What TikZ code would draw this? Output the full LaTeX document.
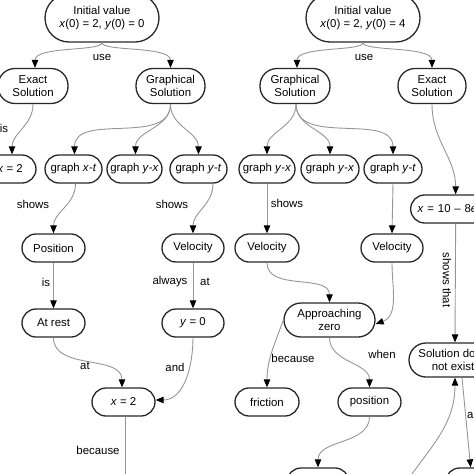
\documentclass[tikz,border=0pt]{standalone}
\usepackage{fontspec}
\setmainfont{Liberation Sans}
\usetikzlibrary{arrows.meta}

\begin{document}
\begin{tikzpicture}[x=1pt,y=-1pt,%
  concept/.style={draw={rgb,255:red,40;green,40;blue,40}, line width=1.3pt, rounded corners=14pt, minimum height=28pt, inner sep=0pt, align=center, font=\fontsize{11.4}{13.5}\selectfont},%
  concepttwo/.style={concept, rounded corners=17pt, minimum height=35pt},%
  conceptinit/.style={concept, rounded corners=24pt, minimum height=48pt},%
  link/.style={draw={rgb,255:red,150;green,150;blue,150}, line width=0.9pt, -{Triangle[length=8pt,width=6.5pt,color=black]}},%
  plain/.style={draw={rgb,255:red,150;green,150;blue,150}, line width=0.9pt},%
  lbl/.style={font=\fontsize{11.4}{13.5}\selectfont, inner sep=0pt}]%
\useasboundingbox (0,0) rectangle (474,474);%
\clip (0,0) rectangle (474,474);%
\node[conceptinit, minimum width=114pt] (initL) at (102,18) {Initial value\\\textit{x}(0) = 2, \textit{y}(0) = 0};%
\node[conceptinit, minimum width=114pt] (initR) at (363,18) {Initial value\\\textit{x}(0) = 2, \textit{y}(0) = 4};%
\node[concepttwo, minimum width=70pt] (exactL) at (33,86) {Exact\\Solution};%
\node[concepttwo, minimum width=69pt] (graphL) at (170.5,86) {Graphical\\Solution};%
\node[concepttwo, minimum width=70pt] (graphR) at (295,86) {Graphical\\Solution};%
\node[concepttwo, minimum width=68pt] (exactR) at (432,86) {Exact\\Solution};%
\node[concept, minimum width=52pt] (x2L) at (10,169) {\textit{x} = 2};%
\node[concept, minimum width=57pt] (gxtL) at (73.5,169) {graph \textit{x}-\textit{t}};%
\node[concept, minimum width=55pt] (gyxL) at (134.5,169) {graph \textit{y}-\textit{x}};%
\node[concept, minimum width=57pt] (gytL) at (198.5,169) {graph \textit{y}-\textit{t}};%
\node[concept, minimum width=56pt] (gyxRa) at (267,169) {graph \textit{y}-\textit{x}};%
\node[concept, minimum width=58pt] (gyxRb) at (330,169) {graph \textit{y}-\textit{x}};%
\node[concept, minimum width=58pt] (gytR) at (393,169) {graph \textit{y}-\textit{t}};%
\node[concept, anchor=west, text width=85pt, align=left, inner xsep=7pt] (xeq) at (410,209) {\textit{x} = 10 – 8\textit{e}};%
\node[concept, minimum width=63pt] (posL) at (53.5,248) {Position};%
\node[concept, minimum width=62pt] (velL) at (193,248) {Velocity};%
\node[concept, minimum width=64pt] (velRa) at (267,248) {Velocity};%
\node[concept, minimum width=62pt] (velRb) at (392,248) {Velocity};%
\node[concept, minimum width=63pt] (restL) at (53.5,323) {At rest};%
\node[concept, minimum width=62pt] (yzero) at (193,323) {\textit{y} = 0};%
\node[concepttwo, minimum width=91pt, minimum height=34pt] (appr) at (329.5,320) {Approaching\\zero};%
\node[concepttwo, minimum width=88pt, minimum height=34pt] (nosol) at (453,360) {Solution does\\not exist};%
\node[concept, minimum width=63pt] (x2b) at (123.5,402) {\textit{x} = 2};%
\node[concept, minimum width=64pt] (friction) at (267,402) {friction};%
\node[concept, minimum width=63pt] (position) at (369.5,402) {position};%
\node[concept, minimum width=62pt] (botA) at (318,482) {};%
\node[concept, minimum width=100pt, anchor=west] (botB) at (445,482) {};%
\coordinate (x2bEnd) at (125,490);%
\coordinate (lowC) at (395,500);%
\draw[link] (initL.south) .. controls +(0,9) and +(0,-22) .. ([xshift=2pt]exactL.north);%
\draw[link] (initL.south) .. controls +(0,9) and +(0,-22) .. (graphL.north);%
\node[lbl] (useL) at (102,57) {use};%
\draw[link] (exactL.south) to[out=-90,in=90] ([xshift=2pt]x2L.north);%
\node[lbl] (isA) at (4,128) {is};%
\draw[link] (graphL.south) to[out=-90,in=90] ([xshift=1pt]gxtL.north);%
\draw[link] (graphL.south) to[out=-90,in=90] ([xshift=1pt]gyxL.north);%
\draw[link] (graphL.south) to[out=-90,in=90] (gytL.north);%
\draw[link] ([xshift=2pt]gxtL.south) to[out=-90,in=90] (posL.north);%
\node[lbl] (showsA) at (33,204) {shows};%
\draw[link] ([xshift=14.5pt]gytL.south) to[out=-90,in=90] (velL.north);%
\node[lbl] (showsB) at (172,204) {shows};%
\draw[link] (posL.south) -- (restL.north);%
\node[lbl] (isB) at (46,282) {is};%
\draw[link] (velL.south) -- (yzero.north);%
\node[lbl] (always) at (170,282) {always};%
\node[lbl] (atA) at (205,282) {at};%
\draw[link] (restL.south) to[out=-90,in=90] ([xshift=-1.5pt]x2b.north);%
\node[lbl] (atB) at (85,366) {at};%
\draw[link] (yzero.south) to[out=-90,in=0] ([yshift=2pt]x2b.east);%
\node[lbl] (andA) at (175,367) {and};%
\draw[plain] ([xshift=1.5pt]x2b.south) -- (x2bEnd);%
\node[lbl] (becauseA) at (98,450) {because};%
\draw[link] (initR.south) .. controls +(0,9) and +(0,-22) .. ([xshift=2pt]graphR.north);%
\draw[link] (initR.south) .. controls +(0,9) and +(0,-22) .. (exactR.north);%
\node[lbl] (useR) at (364,57) {use};%
\draw[link] ([xshift=1pt]graphR.south) to[out=-90,in=90] (gyxRa.north);%
\draw[link] ([xshift=1pt]graphR.south) to[out=-90,in=90] (gyxRb.north);%
\draw[link] ([xshift=1pt]graphR.south) to[out=-90,in=90] (gytR.north);%
\draw[link] (exactR.south) to[out=-90,in=90] ([xshift=-4.5pt]xeq.north);%
\draw[link] (gyxRa.south) -- (velRa.north);%
\node[lbl] (showsC) at (287,203) {shows};%
\draw[link] (gytR.south) -- (velRb.north);%
\draw[link] (velRa.south) to[out=-90,in=90] (appr.north);%
\draw[link] (velRb.south) to[out=-90,in=20] ([yshift=-4pt]appr.east);%
\draw[link] (appr.west) to[out=-110,in=90] (friction.north);%
\node[lbl] (becauseB) at (293,358) {because};%
\draw[link] (appr.south) to[out=-90,in=90] (position.north);%
\node[lbl] (when) at (382,354) {when};%
\draw[link] ([xshift=-4.5pt]xeq.south) -- ([xshift=2pt]nosol.north);%
\node[lbl, rotate=-90] (showsthat) at (447,280) {shows that};%
\draw[link] (position.south) to[out=-90,in=90] (botA.north);%
\draw[link] (lowC) to[out=60,in=-90] ([xshift=2pt]nosol.south);%
\draw[link] ([xshift=9pt]nosol.south) -- ([xshift=-25pt]botB.north);%
\node[lbl, anchor=west] (andB) at (467,415) {a};%
\end{tikzpicture}
\end{document}
